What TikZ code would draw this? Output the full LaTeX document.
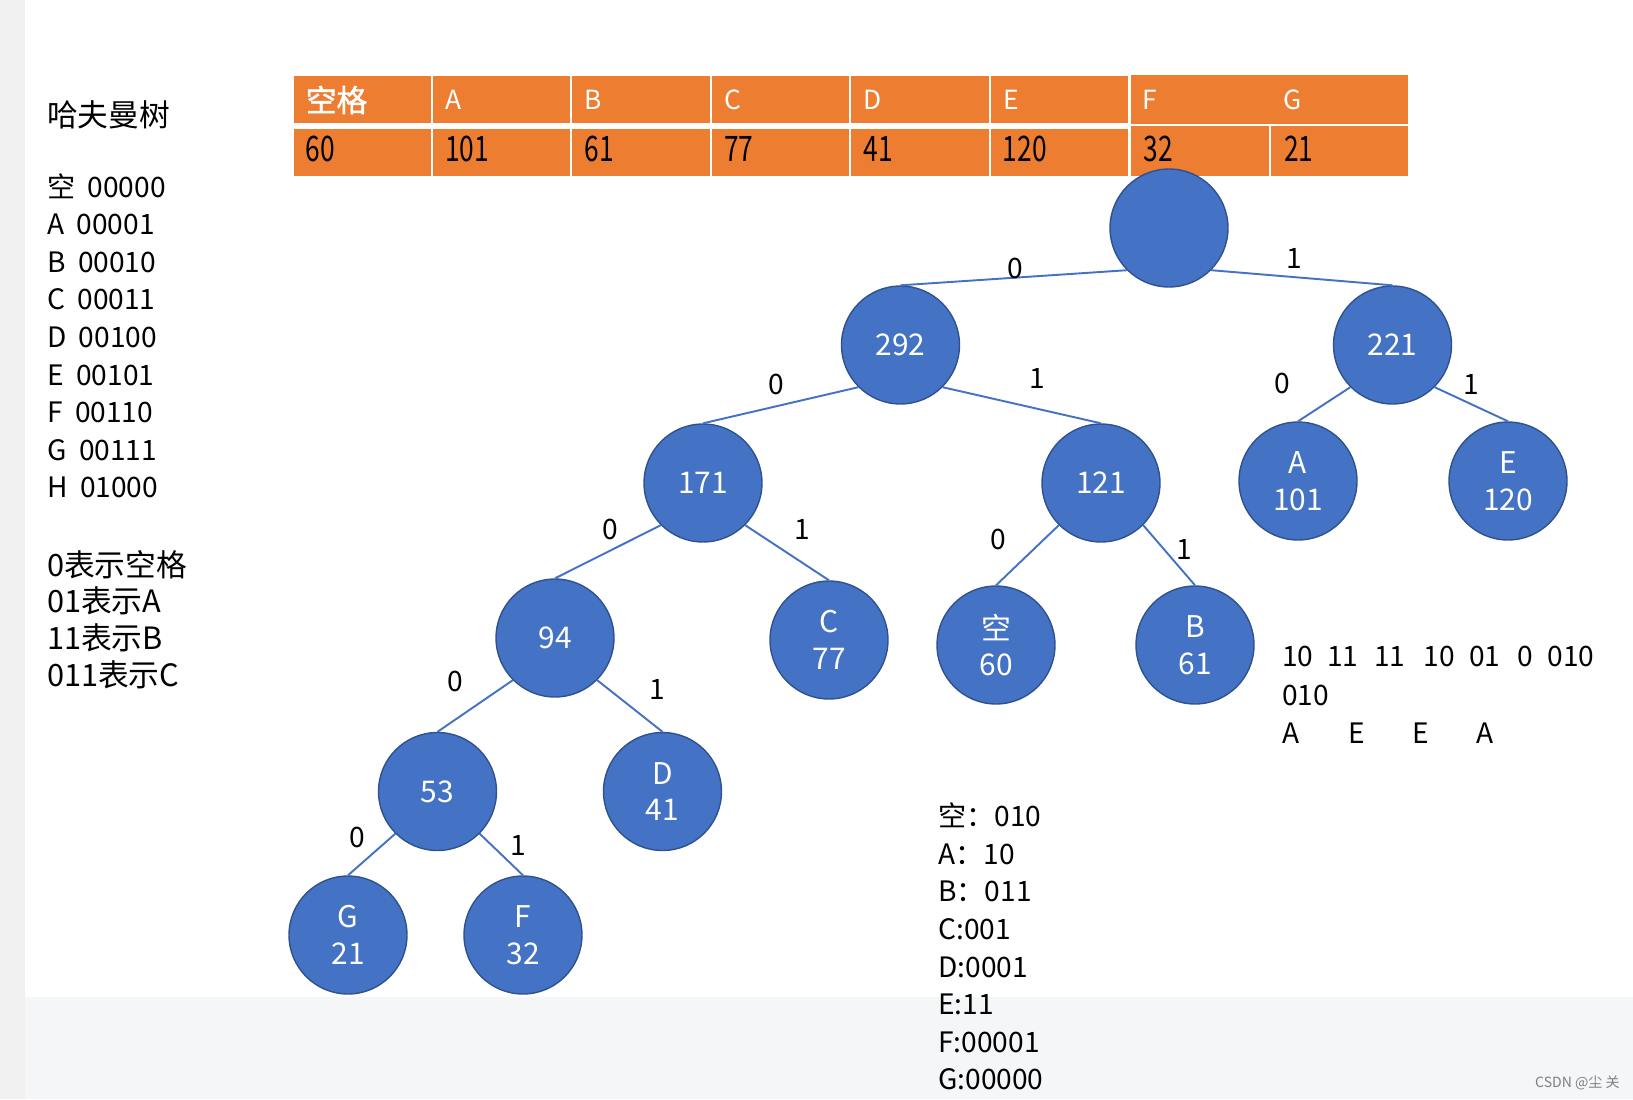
\documentclass[tikz,border=0pt]{standalone}
\usepackage{fontspec}
\setmainfont{Noto Sans CJK SC}
\newfontfamily\headfont[FakeBold=1.4]{Noto Sans CJK SC}
\usepackage{graphicx}

\definecolor{nodeblue}{HTML}{4472C4}
\definecolor{nodeline}{HTML}{2F528F}
\definecolor{cellorange}{HTML}{ED7D31}
\definecolor{sidegray}{HTML}{F0F0F0}
\definecolor{footgray}{HTML}{F5F6F8}

\begin{document}
\begin{tikzpicture}[x=0.02cm,y=-0.02cm]
  \tikzstyle{tnode}=[circle,draw=nodeline,line width=0.8pt,fill=nodeblue,minimum size=2.36cm,inner sep=0pt,text=white,align=center,font=\fontsize{17}{21}\selectfont]
  \tikzstyle{tedge}=[draw=nodeblue,line width=1.1pt]
  \tikzstyle{bit}=[inner sep=0pt,font=\fontsize{16}{19}\selectfont]
  \tikzstyle{txt}=[inner sep=0pt,anchor=base west,font=\fontsize{16}{19}\selectfont]
  \tikzstyle{cell}=[fill=cellorange,inner sep=0pt,minimum width=2.748cm,minimum height=0.926cm,anchor=north west]
  \tikzstyle{celltext}=[inner sep=0pt,anchor=west]

  \useasboundingbox (0,0) rectangle (1633,1099);
  \fill[sidegray] (0,0) rectangle (25,1099);
  \fill[footgray] (25,997) rectangle (1633,1099);

  % Define the table
  \foreach \h [count=\i] in {A,B,C,D,E} {
    \node[cell] (h\i) at ({432.7+139.4*(\i-1)},76) {};
    \node[celltext,text=white,font=\fontsize{15}{18}\selectfont] (ht\i) at ([xshift=0.25cm]h\i.west) {\h};
  }
  \node[cell] (h0) at (293.3,76) {};
  \node[celltext,text=white,font=\fontsize{17.5}{20}\headfont] (ht0) at (305.5,100) {空格};
  \node[cell,minimum width=5.54cm,minimum height=0.98cm] (hFG) at (1131,74.5) {};
  \node[celltext,text=white,font=\fontsize{15}{18}\selectfont] (ht6) at (1142.5,100) {F};
  \node[celltext,text=white,font=\fontsize{15}{18}\selectfont] (ht7) at (1283,100) {G};

  \foreach \v [count=\i] in {60,101,61,77,41,120} {
    \node[cell,minimum height=0.934cm] (v\i) at ({293.3+139.4*(\i-1)},129) {};
    \node[celltext,font=\fontsize{20}{24}\selectfont] (vt\i) at ({305.5+139.4*(\i-1)},148.5) {\scalebox{0.75}[1]{\v}};
  }
  \node[cell,minimum width=2.75cm,minimum height=0.99cm] (v7) at (1131,126) {};
  \node[cell,minimum width=2.75cm,minimum height=0.99cm] (v8) at (1270.5,126) {};
  \node[celltext,font=\fontsize{20}{24}\selectfont] (vt7) at (1143.5,148.5) {\scalebox{0.75}[1]{32}};
  \node[celltext,font=\fontsize{20}{24}\selectfont] (vt8) at (1284,148.5) {\scalebox{0.75}[1]{21}};

  % Define the tree nodes
  \node[tnode] (root) at (1169,228) {};
  \node[tnode] (n292) at (900.5,345) {292};
  \node[tnode] (n221) at (1392.5,345) {221};
  \node[tnode] (n171) at (703,483) {171};
  \node[tnode] (n121) at (1101,483) {121};
  \node[tnode] (leafA) at (1298,481) {A\\101};
  \node[tnode] (leafE) at (1508,481) {E\\120};
  \node[tnode] (n94) at (555,638) {94};
  \node[tnode] (leafC) at (829,640) {C\\77};
  \node[tnode] (leafK) at (996,645) {空\\60};
  \node[tnode] (leafB) at (1195,645) {B\\61};
  \node[tnode] (n53) at (437.5,791.5) {53};
  \node[tnode] (leafD) at (662.5,791.5) {D\\41};
  \node[tnode] (leafG) at (348,935) {G\\21};
  \node[tnode] (leafF) at (523,935) {F\\32};

  % Draw the left (0) and right (1) branches
  \foreach \a/\b in {root/n292, n292/n171, n221/leafA, n171/n94, n121/leafK, n94/n53, n53/leafG} {
    \draw[tedge] (\a.south west) -- (\b.north);
  }
  \foreach \a/\b in {root/n221, n292/n121, n221/leafE, n171/leafC, n121/leafB, n94/leafD, n53/leafF} {
    \draw[tedge] (\a.south east) -- (\b.north);
  }

  % Branch labels
  \foreach \x/\y/\t [count=\i] in {1015.5/268.7/0, 1294.6/258.3/1, 775.9/384.3/0, 1037.3/378.1/1,
      1282.1/383.3/0, 1471.6/384.3/1, 610.3/529.1/0, 802/529.1/1, 997.8/539.5/0, 1184.2/549.9/1,
      455.1/681.1/0, 657.2/689.5/1, 357.2/837.4/0, 518.7/845.7/1} {
    \node[bit] (bit\i) at (\x,\y) {\t};
  }

  % Left column
  \node[inner sep=0pt,anchor=west,font=\fontsize{17.5}{21}\selectfont] (title) at (46.7,115) {哈夫曼树};
  \foreach \ch/\cd [count=\i] in {空/00000, A/00001, B/00010, C/00011, D/00100, E/00101, F/00110, G/00111, H/01000} {
    \node[txt] (fixed\i) at (46.7,{197+37.6*(\i-1)}) {\ch\ \ \cd};
  }
  \foreach \t [count=\i] in {0表示空格, 01表示A, 11表示B, 011表示C} {
    \node[txt,font=\fontsize{17.5}{21}\selectfont] (mean\i) at (46.7,{576+36.7*(\i-1)}) {\t};
  }

  % Encoded message
  \node[txt] (msg) at (1281.7,666.7) {10\hspace{8pt}11\hspace{9pt}11\hspace{10.5pt}10\hspace{8pt}01\hspace{9.5pt}0\hspace{8.5pt}010};
  \node[txt] (msg2) at (1281.7,705) {010};
  \node[txt] (dec) at (1281.7,743) {A\hspace{28pt}E\hspace{27pt}E\hspace{27pt}A};

  % Huffman codes
  \foreach \t [count=\i] in {空：010, A：10, B：011, C:001, D:0001, E:11, F:00001, G:00000} {
    \node[txt] (code\i) at (938,{826.7+37.6*(\i-1)}) {\t};
  }

  \node[inner sep=0pt,anchor=east,text=gray,font=\fontsize{8}{9}\selectfont] (mark) at (1620,1083) {CSDN @尘\ 关};
\end{tikzpicture}
\end{document}
